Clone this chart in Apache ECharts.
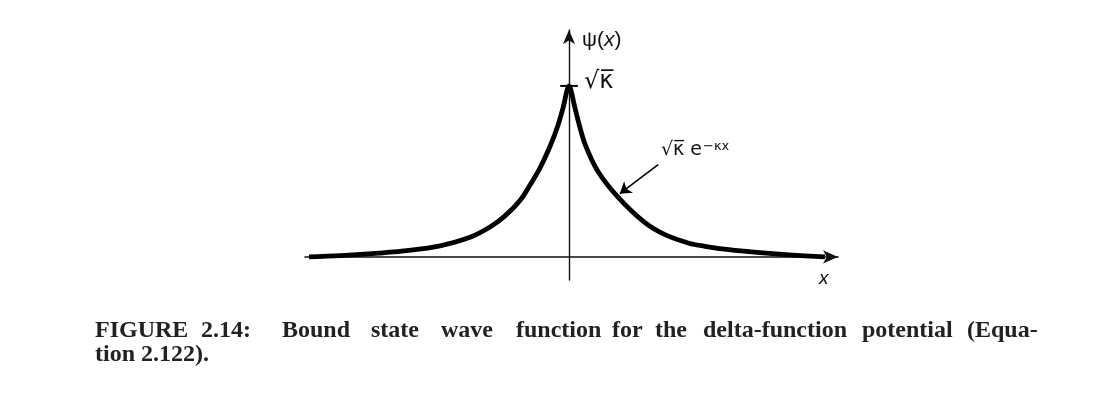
<!DOCTYPE html>
<html>
<head>
<meta charset="utf-8">
<script src="https://cdn.jsdelivr.net/npm/echarts@6/dist/echarts.min.js"></script>
<style>
html,body{margin:0;padding:0;background:#fff;}
#c{width:1114px;height:403px;}
</style>
</head>
<body>
<div id="c"></div>
<script>
// Curve ψ(x), x in units of 1/κ-ish, y in units of √κ
const curveX = [-6.5, -6.15, -5.5, -4.75, -4.0, -3.225, -2.475, -1.975, -1.6, -1.225, -0.975, -0.725, -0.45, -0.275, -0.15, 0,
                0.15, 0.225, 0.4, 0.725, 1.225, 1.9, 2.4, 3.0, 3.4, 4.0, 4.7, 5.5, 6.4];
const curveY = [0.0, 0.003, 0.01, 0.022, 0.038, 0.065, 0.115, 0.175, 0.24, 0.33, 0.42, 0.52, 0.66, 0.77, 0.87, 1.0,
                0.87, 0.8, 0.66, 0.5, 0.35, 0.2, 0.13, 0.08, 0.062, 0.042, 0.026, 0.012, 0.0];
const peakTickX = [-0.22, 0.22];
const peakTickY = [1.0, 1.0];
const arrowFrom = [2.23, 0.54];
const arrowTo = [1.27, 0.37];
const captionLine1 = ["FIGURE", "2.14:", "Bound", "state", "wave", "function", "for", "the", "delta-function", "potential", "(Equa-"];
const captionLine2 = ["tion 2.122)."];

const chart = echarts.init(document.getElementById('c'), null, {renderer: 'canvas'});

const curveData = curveX.map((x, i) => [x, curveY[i]]);
const tickData = peakTickX.map((x, i) => [x, peakTickY[i]]);

// caption word left edges (layout)
const line1Left = [95, 201, 282, 371, 441, 516, 612, 655, 703, 862, 967];
const captionFont = 'bold 24px "Liberation Serif", "DejaVu Serif", serif';
const captionGraphics = [];
captionLine1.forEach((w, i) => {
  captionGraphics.push({type: 'text', left: line1Left[i], top: 319,
    style: {text: w, font: captionFont, fill: '#222'}});
});
captionGraphics.push({type: 'text', left: 95, top: 343,
  style: {text: captionLine2[0], font: captionFont, fill: '#222'}});

const option = {
  backgroundColor: '#ffffff',
  animation: false,
  grid: {left: 305, right: 276, top: 30, bottom: 123, containLabel: false},
  xAxis: {
    type: 'value', min: -6.6, max: 6.725,
    axisLine: {show: true, onZero: true, symbol: ['none', 'arrow'], symbolSize: [10, 15],
      lineStyle: {color: '#111', width: 1.6}},
    axisTick: {show: false}, axisLabel: {show: false}, splitLine: {show: false}
  },
  yAxis: {
    type: 'value', min: -0.135, max: 1.327,
    axisLine: {show: true, onZero: true, symbol: ['none', 'arrow'], symbolSize: [9, 14],
      lineStyle: {color: '#111', width: 1.4}},
    axisTick: {show: false}, axisLabel: {show: false}, splitLine: {show: false}
  },
  series: [
    {
      type: 'line', data: curveData, smooth: 0.3, showSymbol: false, symbol: 'none',
      lineStyle: {color: '#000', width: 4.8, join: 'miter', miterLimit: 20},
      z: 3
    },
    {
      type: 'line', data: tickData, showSymbol: false, symbol: 'none',
      lineStyle: {color: '#000', width: 2},
      markLine: {
        silent: true, animation: false,
        symbol: ['none', 'arrow'], symbolSize: 11,
        label: {show: false},
        lineStyle: {color: '#000', width: 1.6, type: 'solid'},
        data: [[{coord: arrowFrom}, {coord: arrowTo}]]
      },
      z: 4
    }
  ],
  graphic: [
    {type: 'text', left: 582, top: 30,
      style: {
        text: '{a|ψ(}{b|x}{a|)}',
        rich: {
          a: {font: '21px "Liberation Sans", "DejaVu Sans", sans-serif', fill: '#111'},
          b: {font: 'italic 21px "Liberation Sans", "DejaVu Sans", sans-serif', fill: '#111'}
        }
      }},
    {type: 'text', left: 584, top: 70,
      style: {text: '√κ\u0305', font: '24px "DejaVu Sans", sans-serif', fill: '#111'}},
    {type: 'text', left: 661, top: 140,
      style: {
        text: '{a|√κ\u0305 e}{s|−κx}',
        rich: {
          a: {font: '19px "DejaVu Sans", sans-serif', fill: '#111', verticalAlign: 'bottom'},
          s: {font: '13px "DejaVu Sans", sans-serif', fill: '#111', verticalAlign: 'top', padding: [0, 0, 7, 1]}
        }
      }},
    {type: 'text', left: 819, top: 269,
      style: {text: 'x', font: 'italic 19px "Liberation Sans", "DejaVu Sans", sans-serif', fill: '#111'}}
  ].concat(captionGraphics)
};
chart.setOption(option);
</script>
</body>
</html>
